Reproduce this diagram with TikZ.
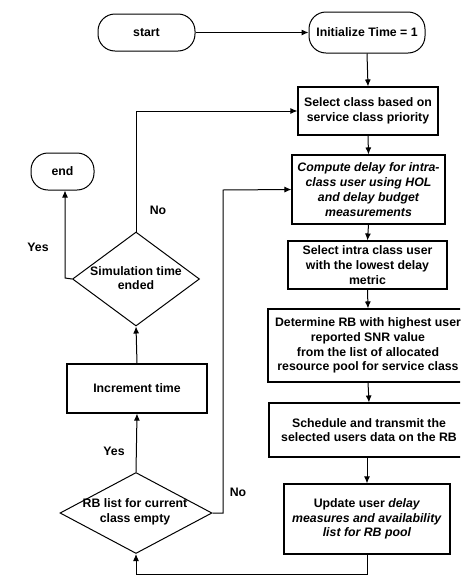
\documentclass[tikz,border=0pt]{standalone}
\usepackage{fontspec}
\setmainfont{Liberation Sans}
\usetikzlibrary{arrows.meta,shapes.geometric}
\begin{document}
\begin{tikzpicture}[x=1pt,y=-1pt,
  every node/.style={font=\fontsize{12.3}{14.8}\selectfont\bfseries, align=center, inner sep=0pt},
  term/.style={draw, rounded corners=17pt, line width=1pt},
  box/.style={draw, line width=1.1pt},
  dia/.style={draw, diamond, line width=1pt},
  conn/.style={line width=1pt, -{Latex[length=7pt,width=6pt]}},
  plain/.style={line width=1pt}
]
\useasboundingbox (0,0) rectangle (474,579);

% terminals
\node[term, minimum width=97pt, minimum height=37pt] (start) at (146.5,32.5) {start};
\node[term, minimum width=116pt, minimum height=41pt] (init) at (367,32.5) {Initialize Time = 1};
\node[term, minimum width=63pt, minimum height=37pt] (end) at (62.5,171.5) {end};

% main column
\node[box, minimum width=140pt, minimum height=48pt] (select) at (368,111) {Select class based on\\service class priority};
\node[box, minimum width=153pt, minimum height=69pt, font=\fontsize{12.3}{14.8}\selectfont\bfseries\itshape] (compute) at (368.5,189.5) {Compute delay for intra-\\class user using HOL\\and delay budget\\measurements};
\node[box, minimum width=159pt, minimum height=48pt] (intra) at (367.5,265) {Select intra class user\\with the lowest delay\\metric};
\begin{scope}
  \clip (0,0) rectangle (460,579);
  \node[box, minimum width=200pt, minimum height=73pt] (det) at (368,345.5) {Determine RB with highest user\\reported SNR value\\from the list of allocated\\resource pool for service class};
  \node[box, minimum width=200pt, minimum height=54pt] (sched) at (369,430) {Schedule and transmit the\\selected users data on the RB};
\end{scope}
\node[box, minimum width=166pt, minimum height=70pt] (update) at (367,519) {Update user \textit{delay}\\\textit{measures and availability}\\\textit{list for RB pool}};

% left column
\node[dia, minimum width=127pt, minimum height=94pt] (sim) at (136,279) {};
\node at (136,278) {Simulation time\\ended};
\node[box, minimum width=140pt, minimum height=49pt] (incr) at (137,388.5) {Increment time};
\node[dia, minimum width=152pt, minimum height=81pt] (rb) at (136,513) {};
\node at (135,512) {RB list for current\\class empty};

% labels
\node (lno1) at (158,210) {No};
\node (lyes1) at (38,247) {Yes};
\node (lyes2) at (114,451) {Yes};
\node (lno2) at (238,492) {No};

% connectors
\coordinate (jsel) at (136,111);
\coordinate (jend) at (65,278);
\coordinate (jrb) at (223,513);
\coordinate (jcomp) at (223,190);
\coordinate (jbot) at (367,574);
\coordinate (jbotl) at (136,574);

\draw[conn] (start.east) -- (init.west);
\draw[conn] (init.south) -- (select.north);
\draw[conn] (select.south) -- (compute.north);
\draw[conn] (compute.south) -- (intra.north);
\draw[conn] (intra.south) -- (det.north);
\draw[conn] (det.south) -- (sched.north);
\draw[conn] (sched.south -| update.north) -- (update.north);
\draw[conn] (update.south) -- (jbot) -- (jbotl) -- (rb.south);
\draw[conn] (rb.north) -- (incr.south);
\draw[conn] (incr.north) -- (sim.south);
\draw[conn] (sim.north) -- (jsel) -- (select.west);
\draw[conn] (sim.west) -- (jend) -- (end.south -| jend);
\draw[conn] (rb.east) -- (jrb) -- (jcomp) -- (compute.west);
\end{tikzpicture}
\end{document}
